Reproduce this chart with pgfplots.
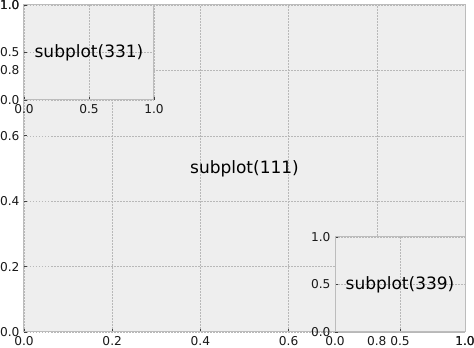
\documentclass[border=0pt]{standalone}
\usepackage{pgfplots}
\pgfplotsset{compat=1.18}
\usepackage{fontspec}
\setmainfont{DejaVu Sans}
\definecolor{bg}{HTML}{EEEEEE}
\definecolor{frame}{HTML}{BCBCBC}
\definecolor{gridc}{HTML}{B8B8B8}
\pgfplotsset{
  mystyle/.style={
    scale only axis, anchor=south west,
    axis background/.style={fill=bg},
    axis line style={frame, line width=1pt},
    grid=major,
    major grid style={gridc, line width=0.5pt, dash pattern=on 1.5pt off 1.5pt},
    tick align=inside,
    xtick pos=left, ytick pos=left,
    major tick length=3pt,
    every tick/.style={black!75, line width=0.8pt},
    tick label style={font=\fontsize{12.2}{14}\selectfont, text=black!90},
    /pgf/number format/assume math mode=true,
    /pgf/number format/fixed, /pgf/number format/fixed zerofill, /pgf/number format/precision=1,
    xmin=0,xmax=1,ymin=0,ymax=1,
    xticklabel style={yshift=-0.5pt},
    yticklabel style={xshift=-1pt},
  }
}
\begin{document}
\begin{tikzpicture}
\path[use as bounding box] (0,0) rectangle (474pt,348pt);
\begin{axis}[mystyle, at={(24pt,16pt)}, width=441pt, height=327pt,
  xtick={0,0.2,0.4,0.6,0.8,1}, ytick={0,0.2,0.4,0.6,0.8,1}]
  \node[font=\fontsize{17}{20}\selectfont] at (rel axis cs:0.5,0.5) {subplot(111)};
\end{axis}
\begin{axis}[mystyle, at={(24pt,248pt)}, width=130pt, height=95pt,
  xtick={0,0.5,1}, ytick={0,0.5,1}]
  \node[font=\fontsize{17}{20}\selectfont] at (rel axis cs:0.5,0.5) {subplot(331)};
\end{axis}
\begin{axis}[mystyle, at={(335pt,16pt)}, width=130pt, height=95pt,
  xtick={0,0.5,1}, ytick={0,0.5,1}]
  \node[font=\fontsize{17}{20}\selectfont] at (rel axis cs:0.5,0.5) {subplot(339)};
\end{axis}
\end{tikzpicture}
\end{document}
